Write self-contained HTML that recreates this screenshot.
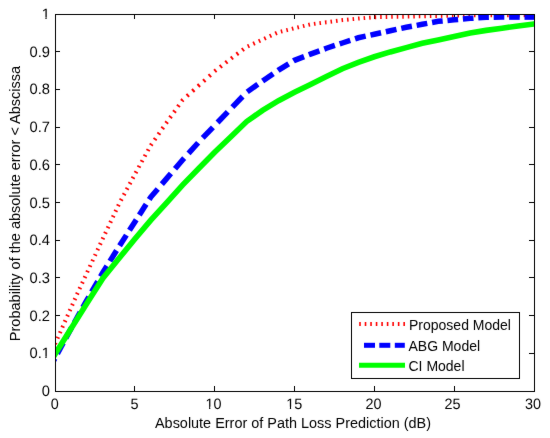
<!DOCTYPE html>
<html><head><meta charset="utf-8"><style>
html,body{margin:0;padding:0;background:#fff;}
svg{display:block;}
text{font-family:"Liberation Sans",Arial,sans-serif;fill:#000;}
.tk text{text-rendering:geometricPrecision;}
</style></head><body>
<svg width="550" height="438" viewBox="0 0 550 438">
<defs><filter id="soft" x="0" y="0" width="550" height="438" filterUnits="userSpaceOnUse" color-interpolation-filters="sRGB"><feConvolveMatrix order="3" kernelMatrix="0.01 0.04 0.01 0.04 0.8 0.04 0.01 0.04 0.01" edgeMode="duplicate" preserveAlpha="true"/></filter><clipPath id="ax"><rect x="56" y="15" width="478" height="376"/></clipPath></defs>
<g filter="url(#soft)">
<rect x="0" y="0" width="550" height="438" fill="#fff"/>
<rect x="55.5" y="14.5" width="479" height="377" fill="none" stroke="#000" stroke-width="1"/>
<g stroke="#000" stroke-width="1"><line x1="55.5" y1="391" x2="55.5" y2="386"/><line x1="55.5" y1="14" x2="55.5" y2="19"/><line x1="134.5" y1="391" x2="134.5" y2="386"/><line x1="134.5" y1="14" x2="134.5" y2="19"/><line x1="214.5" y1="391" x2="214.5" y2="386"/><line x1="214.5" y1="14" x2="214.5" y2="19"/><line x1="294.5" y1="391" x2="294.5" y2="386"/><line x1="294.5" y1="14" x2="294.5" y2="19"/><line x1="374.5" y1="391" x2="374.5" y2="386"/><line x1="374.5" y1="14" x2="374.5" y2="19"/><line x1="454.5" y1="391" x2="454.5" y2="386"/><line x1="454.5" y1="14" x2="454.5" y2="19"/><line x1="534.5" y1="391" x2="534.5" y2="386"/><line x1="534.5" y1="14" x2="534.5" y2="19"/><line x1="55" y1="391.5" x2="60" y2="391.5"/><line x1="535" y1="391.5" x2="529" y2="391.5"/><line x1="55" y1="353.5" x2="60" y2="353.5"/><line x1="535" y1="353.5" x2="529" y2="353.5"/><line x1="55" y1="315.5" x2="60" y2="315.5"/><line x1="535" y1="315.5" x2="529" y2="315.5"/><line x1="55" y1="277.5" x2="60" y2="277.5"/><line x1="535" y1="277.5" x2="529" y2="277.5"/><line x1="55" y1="240.5" x2="60" y2="240.5"/><line x1="535" y1="240.5" x2="529" y2="240.5"/><line x1="55" y1="202.5" x2="60" y2="202.5"/><line x1="535" y1="202.5" x2="529" y2="202.5"/><line x1="55" y1="164.5" x2="60" y2="164.5"/><line x1="535" y1="164.5" x2="529" y2="164.5"/><line x1="55" y1="127.5" x2="60" y2="127.5"/><line x1="535" y1="127.5" x2="529" y2="127.5"/><line x1="55" y1="89.5" x2="60" y2="89.5"/><line x1="535" y1="89.5" x2="529" y2="89.5"/><line x1="55" y1="51.5" x2="60" y2="51.5"/><line x1="535" y1="51.5" x2="529" y2="51.5"/><line x1="55" y1="14.5" x2="60" y2="14.5"/><line x1="535" y1="14.5" x2="529" y2="14.5"/></g>
<g clip-path="url(#ax)" fill="none" stroke-linejoin="miter">
<g stroke="#ff0000" stroke-width="4" stroke-linecap="butt"><polyline points="52.55,349.53 53.22,348.03"/><polyline points="55.00,344.01 55.00,344.01 55.66,342.51"/><polyline points="57.44,338.50 58.11,337.00"/><polyline points="59.89,332.98 60.56,331.48"/><polyline points="62.34,327.46 62.98,326.00 63.00,325.96"/><polyline points="64.78,321.94 65.45,320.44"/><polyline points="67.23,316.42 67.90,314.92"/><polyline points="69.68,310.90 70.34,309.40"/><polyline points="72.12,305.38 72.79,303.88"/><polyline points="74.57,299.86 75.24,298.36"/><polyline points="77.02,294.34 77.68,292.84"/><polyline points="79.49,288.82 80.19,287.32"/><polyline points="82.05,283.31 82.75,281.81"/><polyline points="84.62,277.79 85.31,276.29"/><polyline points="87.18,272.27 87.88,270.77"/><polyline points="89.74,266.75 90.44,265.25"/><polyline points="92.30,261.23 93.00,259.73"/><polyline points="94.87,255.71 94.92,255.61 95.56,254.21"/><polyline points="97.43,250.19 98.13,248.69"/><polyline points="99.99,244.67 100.69,243.17"/><polyline points="102.56,239.15 102.90,238.42 103.26,237.65"/><polyline points="105.13,233.63 105.83,232.13"/><polyline points="107.71,228.12 108.41,226.62"/><polyline points="110.29,222.60 110.99,221.10"/><polyline points="112.87,217.08 113.57,215.58"/><polyline points="115.44,211.56 116.14,210.06"/><polyline points="118.02,206.04 118.72,204.54"/><polyline points="120.85,200.52 121.65,199.02"/><polyline points="123.79,195.00 124.59,193.50"/><polyline points="126.74,189.48 127.54,187.98"/><polyline points="129.68,183.96 130.48,182.46"/><polyline points="132.63,178.44 133.43,176.94"/><polyline points="135.60,172.93 136.42,171.43"/><polyline points="138.63,167.41 139.45,165.91"/><polyline points="141.66,161.89 142.49,160.39"/><polyline points="144.70,156.37 145.52,154.87"/><polyline points="147.73,150.85 148.55,149.35"/><polyline points="150.76,145.33 150.80,145.26 151.80,143.83"/><polyline points="154.59,139.81 155.63,138.31"/><polyline points="158.43,134.29 159.47,132.79"/><polyline points="162.26,128.77 163.31,127.27"/><polyline points="166.10,123.25 166.77,122.29 167.15,121.75"/><polyline points="170.02,117.74 171.09,116.24"/><polyline points="173.97,112.22 175.04,110.72"/><polyline points="177.91,106.70 178.98,105.20"/><polyline points="181.85,101.18 182.73,99.94 183.00,99.71"/><polyline points="187.02,96.10 188.52,94.75"/><polyline points="192.53,91.14 194.03,89.80"/><polyline points="198.05,86.19 198.70,85.61 199.55,84.85"/><polyline points="203.57,81.24 205.07,79.89"/><polyline points="209.09,76.28 210.59,74.94"/><polyline points="214.61,71.33 214.67,71.28 216.11,70.16"/><polyline points="220.13,67.04 221.63,65.87"/><polyline points="225.65,62.75 227.15,61.58"/><polyline points="231.17,58.48 232.67,57.35"/><polyline points="236.69,54.34 238.19,53.22"/><polyline points="242.21,50.20 243.71,49.08"/><polyline points="247.72,46.39 249.22,45.69"/><polyline points="253.24,43.83 254.74,43.14"/><polyline points="258.76,41.27 260.26,40.58"/><polyline points="264.28,38.72 265.78,38.03"/><polyline points="269.80,36.18 271.30,35.48"/><polyline points="275.32,33.63 276.82,32.94"/><polyline points="280.84,31.59 282.34,31.22"/><polyline points="286.36,30.24 287.86,29.87"/><polyline points="291.88,28.89 293.38,28.52"/><polyline points="297.40,27.53 298.90,27.17"/><polyline points="302.91,26.18 304.41,25.82"/><polyline points="308.43,24.83 309.93,24.47"/><polyline points="313.95,23.87 315.45,23.67"/><polyline points="319.47,23.13 320.97,22.93"/><polyline points="324.99,22.40 326.43,22.20 326.49,22.20"/><polyline points="330.51,21.66 332.01,21.46"/><polyline points="336.03,20.92 337.53,20.72"/><polyline points="341.55,20.18 342.40,20.07 343.05,20.01"/><polyline points="347.07,19.64 348.57,19.50"/><polyline points="352.59,19.12 354.09,18.98"/><polyline points="358.10,18.61 358.37,18.58 359.60,18.48"/><polyline points="363.62,18.13 365.12,18.00"/><polyline points="369.14,17.66 370.64,17.53"/><polyline points="374.66,17.20 376.16,17.17"/><polyline points="380.18,17.09 381.68,17.06"/><polyline points="385.70,16.98 387.20,16.95"/><polyline points="391.22,16.87 392.72,16.84"/><polyline points="396.74,16.77 398.24,16.74"/><polyline points="402.26,16.66 403.76,16.63"/><polyline points="407.78,16.55 409.28,16.52"/><polyline points="413.29,16.44 414.79,16.41"/><polyline points="418.81,16.33 420.31,16.30"/><polyline points="424.33,16.22 425.83,16.19"/><polyline points="429.85,16.11 431.35,16.08"/><polyline points="435.37,16.00 436.87,15.97"/><polyline points="440.89,15.89 442.39,15.86"/><polyline points="446.41,15.78 447.91,15.75"/><polyline points="451.93,15.67 453.43,15.64"/><polyline points="457.45,15.56 458.95,15.53"/><polyline points="462.97,15.46 464.47,15.43"/><polyline points="468.48,15.35 469.98,15.32"/><polyline points="474.00,15.30 475.50,15.30"/><polyline points="479.52,15.29 481.02,15.29"/><polyline points="485.04,15.28 486.54,15.28"/><polyline points="490.56,15.27 492.06,15.26"/><polyline points="496.08,15.26 497.58,15.25"/><polyline points="501.60,15.24 502.07,15.24 503.10,15.24"/><polyline points="507.12,15.23 508.62,15.23"/><polyline points="512.64,15.22 514.14,15.21"/><polyline points="518.16,15.21 519.66,15.20"/><polyline points="523.67,15.19 525.17,15.19"/><polyline points="529.19,15.18 530.69,15.18"/><polyline points="534.71,15.17 536.21,15.17"/><polyline points="540.23,15.16 541.73,15.15"/></g>
<g stroke="#0000ff" stroke-width="5.5" stroke-linecap="butt"><polyline points="50.22,366.78 54.80,358.37"/><polyline points="57.41,353.57 63.19,342.97"/><polyline points="65.80,338.16 70.97,328.68 71.59,327.56"/><polyline points="74.28,322.76 80.20,312.16"/><polyline points="82.88,307.36 86.93,300.10 88.86,296.76"/><polyline points="91.63,291.95 97.75,281.35"/><polyline points="100.52,276.55 102.90,272.42 106.94,265.95"/><polyline points="109.94,261.14 116.56,250.54"/><polyline points="119.58,245.74 126.38,235.14"/><polyline points="129.46,230.34 134.83,221.96 136.26,219.74"/><polyline points="139.34,214.93 146.14,204.33"/><polyline points="149.22,199.53 150.80,197.06 157.76,188.93"/><polyline points="161.87,184.12 166.77,178.39 170.93,173.52"/><polyline points="175.04,168.72 182.73,159.73 184.19,158.12"/><polyline points="188.54,153.32 198.13,142.72"/><polyline points="202.72,137.91 212.92,127.31"/><polyline points="217.55,122.51 227.76,111.91"/><polyline points="232.38,107.10 242.59,96.50"/><polyline points="247.24,91.88 257.84,84.34"/><polyline points="262.64,80.92 273.24,73.68"/><polyline points="278.05,70.40 278.53,70.06 288.65,63.89"/><polyline points="293.45,60.96 294.50,60.32 304.05,56.64"/><polyline points="308.85,54.78 310.47,54.16 319.45,50.83"/><polyline points="324.26,49.05 326.43,48.25 334.86,45.48"/><polyline points="339.66,43.91 342.40,43.01 350.26,40.43"/><polyline points="355.07,38.85 358.37,37.77 365.67,36.17"/><polyline points="370.47,35.11 374.33,34.27 381.07,32.79"/><polyline points="385.87,31.74 390.30,30.76 396.47,29.42"/><polyline points="401.28,28.37 406.27,27.28 411.88,26.24"/><polyline points="416.68,25.34 422.23,24.30 427.28,23.36"/><polyline points="432.09,22.46 438.20,21.31 442.69,20.89"/><polyline points="447.49,20.43 454.17,19.79 458.09,19.44"/><polyline points="462.89,19.01 470.13,18.35 473.49,18.15"/><polyline points="478.30,17.85 486.10,17.37 488.90,17.32"/><polyline points="493.70,17.24 502.07,17.09 504.30,17.09"/><polyline points="509.11,17.09 518.03,17.09 519.71,17.09"/><polyline points="524.51,17.09 534.00,17.09 535.11,17.09"/><polyline points="539.91,17.09 544.00,17.09"/></g>
<polyline points="49.70,362.72 55.00,354.24 70.97,328.71 86.93,303.31 102.90,278.15 118.87,258.56 134.83,238.96 150.80,220.17 166.77,202.54 182.73,184.90 198.70,168.50 214.67,152.27 230.63,136.91 246.60,121.56 262.57,110.39 278.53,100.70 294.50,92.31 310.47,84.43 326.43,76.55 342.40,68.70 358.37,62.32 374.33,56.75 390.30,51.94 406.27,47.62 422.23,43.31 438.20,39.91 454.17,36.50 470.13,33.10 486.10,30.39 502.07,28.15 518.03,25.92 534.00,23.93 543.92,22.69" stroke="#00ff00" stroke-width="5.6"/>
</g>

<g class="tk" font-size="15" text-anchor="middle"><text transform="translate(54.75,408.6) scale(0.96,1)">0</text><text transform="translate(134.45,408.6) scale(0.96,1)">5</text><text transform="translate(213.50,408.6) scale(0.96,1)">10</text><text transform="translate(294.30,408.6) scale(0.96,1)">15</text><text transform="translate(373.50,408.6) scale(0.96,1)">20</text><text transform="translate(452.60,408.6) scale(0.96,1)">25</text><text transform="translate(533.00,408.6) scale(0.96,1)">30</text></g>
<g class="tk" font-size="15" text-anchor="end"><text transform="translate(49.9,396.07) scale(0.98,1)">0</text><text transform="translate(49.9,358.37) scale(0.98,1)">0.1</text><text transform="translate(49.9,320.67) scale(0.98,1)">0.2</text><text transform="translate(49.9,282.97) scale(0.98,1)">0.3</text><text transform="translate(49.9,245.27) scale(0.98,1)">0.4</text><text transform="translate(49.9,207.57) scale(0.98,1)">0.5</text><text transform="translate(49.9,169.87) scale(0.98,1)">0.6</text><text transform="translate(49.9,132.17) scale(0.98,1)">0.7</text><text transform="translate(49.9,94.47) scale(0.98,1)">0.8</text><text transform="translate(49.9,56.77) scale(0.98,1)">0.9</text><text transform="translate(49.9,19.07) scale(0.98,1)">1</text></g>
<text x="293" y="427.6" font-size="14.45" text-anchor="middle">Absolute Error of Path Loss Prediction (dB)</text>
<text transform="translate(19.6,203.5) rotate(-90)" font-size="14.5" text-anchor="middle">Probability of the absolute error &lt; Abscissa</text>
<rect x="351.5" y="312.5" width="168" height="66" fill="#fff" stroke="#000" stroke-width="1"/>
<g stroke="#ff0000" stroke-width="4"><line x1="359.20" y1="324" x2="360.80" y2="324"/><line x1="364.72" y1="324" x2="366.32" y2="324"/><line x1="370.24" y1="324" x2="371.84" y2="324"/><line x1="375.76" y1="324" x2="377.36" y2="324"/><line x1="381.28" y1="324" x2="382.88" y2="324"/><line x1="386.80" y1="324" x2="388.40" y2="324"/><line x1="392.32" y1="324" x2="393.92" y2="324"/><line x1="397.84" y1="324" x2="399.44" y2="324"/><line x1="403.36" y1="324" x2="404.96" y2="324"/></g>
<g stroke="#0000ff" stroke-width="5"><line x1="364" y1="345.3" x2="375" y2="345.3"/><line x1="379.3" y1="345.3" x2="390.3" y2="345.3"/><line x1="394.8" y1="345.3" x2="404.8" y2="345.3"/></g>
<line x1="359" y1="365.3" x2="405" y2="365.3" stroke="#00ff00" stroke-width="5"/>
<g font-size="14">
<text x="409" y="329.7">Proposed Model</text>
<text x="408.5" y="350.7">ABG Model</text>
<text x="408.5" y="370.6">CI Model</text>
</g>
<g><rect x="205.78" y="406.65" width="3.31" height="3.00" fill="#fff"/><rect x="210.31" y="406.65" width="3.38" height="3.00" fill="#fff"/><rect x="286.58" y="406.65" width="3.31" height="3.00" fill="#fff"/><rect x="291.11" y="406.65" width="3.38" height="3.00" fill="#fff"/><rect x="42.00" y="356.42" width="3.38" height="3.00" fill="#fff"/><rect x="46.63" y="356.42" width="3.45" height="3.00" fill="#fff"/><rect x="42.02" y="17.12" width="3.38" height="3.00" fill="#fff"/><rect x="46.65" y="17.12" width="3.45" height="3.00" fill="#fff"/></g>
</g>
</svg>
</body></html>
